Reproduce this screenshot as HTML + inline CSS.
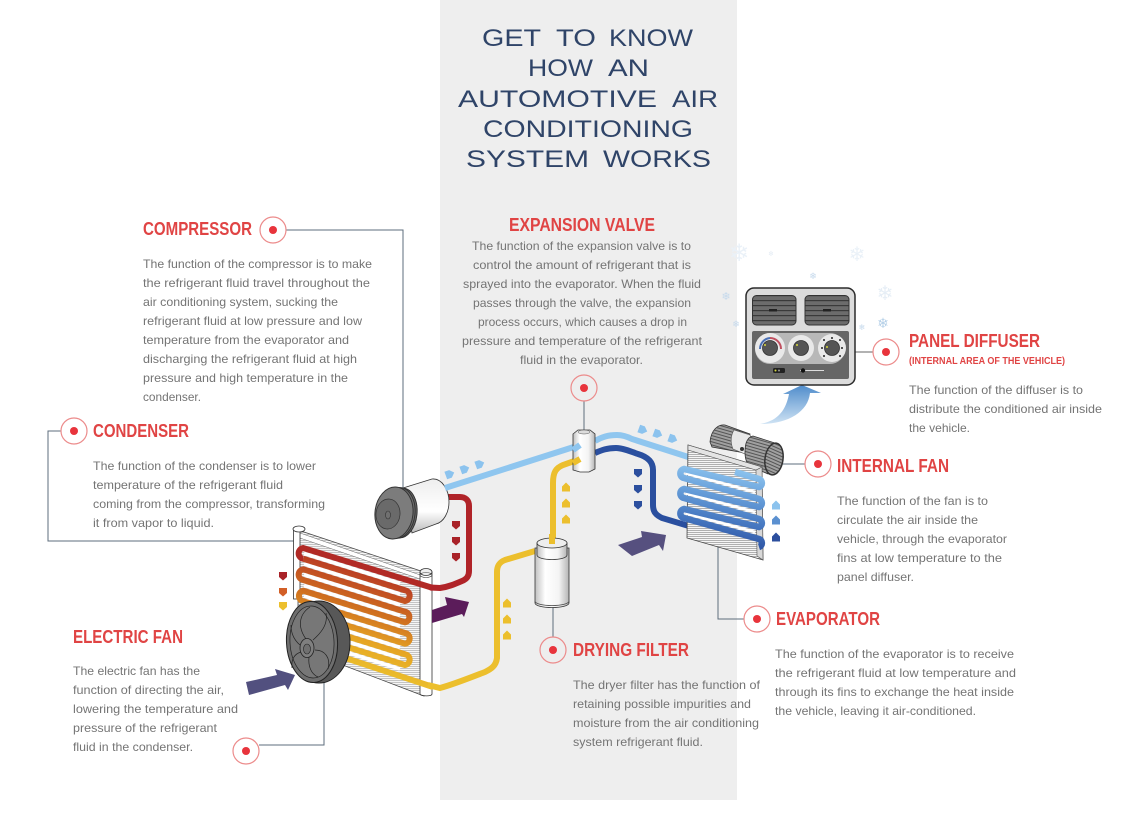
<!DOCTYPE html>
<html><head><meta charset="utf-8"><style>
html,body{margin:0;padding:0;background:#fff;width:1139px;height:818px;overflow:hidden}
svg{display:block;font-family:"Liberation Sans",sans-serif}
.t{font-size:24px;fill:#2f4468}
.h{font-size:18px;font-weight:bold;fill:#e04444}
.b{font-size:12px;fill:#747474}
.l{fill:none;stroke:#5d6d7c;stroke-width:1}
</style></head><body>
<svg width="1139" height="818" viewBox="0 0 1139 818" xmlns="http://www.w3.org/2000/svg">
<defs>
<pattern id="dots" width="2" height="2" patternUnits="userSpaceOnUse"><rect width="2" height="2" fill="#f6f6f6"/><rect width="2" height="1" fill="#c4c4c4"/></pattern>
<pattern id="lines" width="3" height="2" patternUnits="userSpaceOnUse"><rect width="3" height="2" fill="#f6f6f6"/><rect width="3" height="1" fill="#b0b0b0"/></pattern>
<pattern id="drum" width="4" height="3" patternUnits="userSpaceOnUse" patternTransform="rotate(16)"><rect width="4" height="3" fill="#a0a0a0"/><rect width="4" height="1" fill="#555"/></pattern>
<pattern id="vent" width="4" height="5" patternUnits="userSpaceOnUse"><rect width="4" height="5" fill="#6c6c6c"/><rect width="4" height="1.2" fill="#3a3a3a"/></pattern>
<linearGradient id="coil" gradientUnits="userSpaceOnUse" x1="365" y1="565" x2="335" y2="665"><stop offset="0" stop-color="#b5301f"/><stop offset=".12" stop-color="#bd4423"/><stop offset=".42" stop-color="#d0711f"/><stop offset=".7" stop-color="#e6a524"/><stop offset="1" stop-color="#ecc12c"/></linearGradient>
<linearGradient id="evap" gradientUnits="userSpaceOnUse" x1="725" y1="468" x2="715" y2="545"><stop offset="0" stop-color="#8cc3ee"/><stop offset=".35" stop-color="#659cd8"/><stop offset=".7" stop-color="#4576bf"/><stop offset="1" stop-color="#2d53a3"/></linearGradient>
<linearGradient id="cyl" x1="0" x2="1" y1="0" y2="0"><stop offset="0" stop-color="#c0c0c0"/><stop offset=".3" stop-color="#fff"/><stop offset=".7" stop-color="#f4f4f4"/><stop offset="1" stop-color="#b5b5b5"/></linearGradient>
<linearGradient id="comp" x1="0" x2="0" y1="0" y2="1"><stop offset="0" stop-color="#eee"/><stop offset=".6" stop-color="#fff"/><stop offset="1" stop-color="#bbb"/></linearGradient>
<linearGradient id="ba" x1="0" x2="0" y1="0" y2="1"><stop offset="0" stop-color="#4f8ccb"/><stop offset="1" stop-color="#cfe3f4"/></linearGradient>
<path id="dn" d="M-4,-4H4V1L0,4.500L-4,1Z"/>
<path id="up" d="M-4,4.500H4V-.5L0,-4.500L-4,-.5Z"/>
<g id="tg"><circle r="13" fill="none" stroke="#ec8b8b" stroke-width="1.200"/><circle r="4" fill="#e8343c"/></g>
</defs>

<rect width="1139" height="818" fill="#fff"/>
<rect x="440" y="0" width="297" height="800" fill="#eeeeee"/>

<!-- Title -->
<g class="t">
<text x="482" y="46" textLength="59" lengthAdjust="spacingAndGlyphs">GET</text>
<text x="556" y="46" textLength="40" lengthAdjust="spacingAndGlyphs">TO</text>
<text x="609" y="46" textLength="84" lengthAdjust="spacingAndGlyphs">KNOW</text>
<text x="528" y="76" textLength="65" lengthAdjust="spacingAndGlyphs">HOW</text>
<text x="608" y="76" textLength="41" lengthAdjust="spacingAndGlyphs">AN</text>
<text x="458" y="107" textLength="199" lengthAdjust="spacingAndGlyphs">AUTOMOTIVE</text>
<text x="672" y="107" textLength="46" lengthAdjust="spacingAndGlyphs">AIR</text>
<text x="483" y="137" textLength="210" lengthAdjust="spacingAndGlyphs">CONDITIONING</text>
<text x="466" y="167" textLength="123" lengthAdjust="spacingAndGlyphs">SYSTEM</text>
<text x="603" y="167" textLength="108" lengthAdjust="spacingAndGlyphs">WORKS</text>
</g>

<!-- Snow -->
<g font-family="'DejaVu Sans',sans-serif" text-anchor="middle">
<text x="739" y="261" font-size="24" fill="#eaf1f8">❄</text>
<text x="857" y="261" font-size="20" fill="#eaf1f8">❄</text>
<text x="885" y="300" font-size="20" fill="#e6eef6">❄</text>
<text x="726" y="300" font-size="11" fill="#c5d9ec">❄</text>
<text x="813" y="279" font-size="9" fill="#c5d9ec">❄</text>
<text x="883" y="328" font-size="14" fill="#b5d0e8">❄</text>
<text x="862" y="330" font-size="8" fill="#c5d9ec">❄</text>
<text x="736" y="327" font-size="9" fill="#c5d9ec">❄</text>
<text x="771" y="256" font-size="7" fill="#e5edf5">❄</text>
</g>

<!-- Leader lines -->
<polyline class="l" points="286,230 403,230 403,490"/>
<polyline class="l" points="61,431 48,431 48,541 296,541"/>
<polyline class="l" points="259,745 324,745 324,680"/>
<polyline class="l" points="584,401 584,430"/>
<polyline class="l" points="553,637 553,605"/>
<polyline class="l" points="744,619 718,619 718,546"/>
<polyline class="l" points="805,464 782,464"/>
<polyline class="l" points="855,352 873,352" style="stroke:#999;stroke-width:1.500"/>

<!-- Targets -->
<use href="#tg" x="273" y="230"/><use href="#tg" x="74" y="431"/><use href="#tg" x="246" y="751"/>
<use href="#tg" x="584" y="388"/><use href="#tg" x="553" y="650"/><use href="#tg" x="757" y="619"/>
<use href="#tg" x="818" y="464"/><use href="#tg" x="886" y="352"/>

<!-- Condenser -->
<polygon points="298,530 424,572 424,696 298,648" fill="url(#dots)" stroke="#444" stroke-width=".8"/>
<polygon points="300,533 423,576 423,580 300,538" fill="#fff" stroke="#666" stroke-width=".5"/>
<rect x="293.500" y="529" width="6.500" height="70" fill="#fff" stroke="#333" stroke-width=".8"/>
<ellipse cx="299" cy="529" rx="6" ry="3" fill="#fff" stroke="#333" stroke-width=".8"/>
<path d="M420,572V694C420,696 432,697 432,694V572Z" fill="#fff" stroke="#333" stroke-width=".8"/>
<ellipse cx="426" cy="572" rx="6" ry="3.500" fill="#eee" stroke="#333" stroke-width=".8"/>
<ellipse cx="426" cy="575" rx="6" ry="2.500" fill="none" stroke="#333" stroke-width=".6"/>

<g fill="none" stroke="#fff" stroke-width="3.500">
<path d="M304,553.400L400,583.400"/><path d="M400,594L304,564"/><path d="M304,574.700L400,604.700"/><path d="M400,615.400L304,585.400"/><path d="M304,596L400,626"/><path d="M400,636.700L304,606.700"/><path d="M304,617.400L400,647.400"/><path d="M400,658L304,628"/><path d="M304,639L400,669"/>
</g>
<path d="M303.300,558.700L405,590.300A5.400,5.400 0 0 1 405,601L303.300,569.300A5.400,5.400 0 0 0 303.300,580L405,611.700A5.400,5.400 0 0 1 405,622.300L303.300,590.700A5.400,5.400 0 0 0 303.300,601.300L405,633A5.400,5.400 0 0 1 405,643.700L303.300,612A5.400,5.400 0 0 0 303.300,622.700L405,654.300A5.400,5.400 0 0 1 405,665L303.300,633.300A5.400,5.400 0 0 0 303.300,644L433,687" fill="none" stroke="url(#coil)" stroke-width="6"/>
<path d="M303.300,558.700A5.400,5.400 0 0 1 303.300,548L433,588" fill="none" stroke="#b12a25" stroke-width="6"/>
<path d="M430,587.500L440,588C448,587 455,584 462,581C467,579 469,576 469,571V506C469,500 465,497 460,497H447" fill="none" stroke="#b02328" stroke-width="6"/>
<path d="M428,685L440,688C452,685 472,677 485,672C491,669 496,666 497,658V572C497,565 500,562 505,560L535,551" fill="none" stroke="#ecbf2d" stroke-width="6"/>

<!-- Fan -->
<g stroke="#222" stroke-width="1">
<ellipse cx="319" cy="642" rx="31" ry="41" fill="#585858"/>
<ellipse cx="312" cy="642" rx="25.500" ry="40.500" transform="rotate(-3 312 642)" fill="#6e6e6e"/>
<ellipse cx="312" cy="642" rx="22" ry="36" transform="rotate(-3 312 642)" fill="#777" stroke-width=".7"/>
<g fill="none" stroke-width=".7">
<path d="M306,639C298,628 298,615 310,607"/><path d="M313,640C322,632 328,624 326,613"/><path d="M315,650C325,650 331,658 328,669"/><path d="M309,657C308,666 311,674 318,677"/><path d="M301,652C294,654 291,660 292,668"/><path d="M300,645C294,640 291,633 291,625"/>
</g>
<ellipse cx="307" cy="648" rx="7" ry="9.500" fill="#7f7f7f" stroke-width=".8"/>
<ellipse cx="307" cy="649" rx="3.500" ry="5" fill="#707070" stroke-width=".6"/>
</g>

<!-- Compressor -->
<path d="M403,488L432,479C442,478 449,490 449,502C449,512 444,522 436,524L412,533Z" fill="url(#comp)" stroke="#333" stroke-width=".8"/>
<ellipse cx="401" cy="513" rx="16" ry="25" transform="rotate(6 401 513)" fill="#666" stroke="#333"/>
<ellipse cx="398" cy="513" rx="17" ry="25.500" transform="rotate(6 398 513)" fill="#6d6d6d" stroke="#333"/>
<ellipse cx="394" cy="513" rx="19" ry="26" transform="rotate(6 394 513)" fill="#7c7c7c" stroke="#333"/>
<ellipse cx="388" cy="514" rx="12" ry="15" transform="rotate(6 388 514)" fill="#6a6a6a" stroke="#333" stroke-width=".7"/>
<ellipse cx="388" cy="515" rx="2.500" ry="4" fill="#707070" stroke="#333" stroke-width=".6"/>

<!-- Pipes -->
<path d="M445,488L580,445" fill="none" stroke="#8fc6ef" stroke-width="6"/>
<path d="M595,441C602,437 608,435 617,435C622,435 628,437 632,439L757,479" fill="none" stroke="#8fc6ef" stroke-width="6"/>
<path d="M595,453C602,450 607,448 616,448C622,448 630,451 638,454C648,457 653,462 653,470V505C653,512 656,515 662,518L759,547" fill="none" stroke="#2a4f9f" stroke-width="6"/>
<path d="M553,543V483C553,472 556,468 563,465L580,459" fill="none" stroke="#ecbf2d" stroke-width="6"/>

<!-- Drying filter -->
<path d="M535,548V603C535,609 569,609 569,603V548Z" fill="url(#cyl)" stroke="#333" stroke-width=".8"/>
<path d="M535,601C535,607 569,607 569,601" fill="none" stroke="#444" stroke-width=".7"/>
<path d="M537,543V555C537,561 567,561 567,555V543Z" fill="url(#cyl)" stroke="#333" stroke-width=".8"/>
<ellipse cx="552" cy="543" rx="15" ry="5" fill="#eee" stroke="#333" stroke-width=".8"/>
<path d="M552,544V534" stroke="#ecbf2d" stroke-width="6"/>

<!-- Valve -->
<path d="M573,434L578,430H590L595,434V469L589,472L580,472L573,470Z" fill="url(#cyl)" stroke="#333" stroke-width=".8"/>
<ellipse cx="584" cy="432" rx="6" ry="2" fill="#ddd" stroke="#555" stroke-width=".5"/>
<path d="M573,450L580,445" stroke="#8fc6ef" stroke-width="6" fill="none"/>
<path d="M573,463L580,459" stroke="#ecbf2d" stroke-width="6" fill="none"/>

<!-- Blower -->
<path d="M710,442C711,430 718,424 725,425L750,434L745,453L712,447Z" fill="url(#drum)" stroke="#333" stroke-width=".8"/>
<path d="M734,430L750,435C753,442 750,450 745,454L733,449C730,442 731,435 734,430Z" fill="#e8e8e8" stroke="#555" stroke-width=".6"/>
<path d="M745,452C745,442 748,437 753,436L778,444L768,474L750,466C746,463 745,458 745,452Z" fill="url(#drum)" stroke="#333" stroke-width=".8"/>
<circle cx="742" cy="449" r="2" fill="#333"/>
<ellipse cx="774" cy="459" rx="9" ry="16" transform="rotate(8 774 459)" fill="url(#drum)" stroke="#333" stroke-width="1.500"/>

<!-- Evaporator -->
<polygon points="688,445 762,467 763,560 687,538" fill="url(#lines)" stroke="#444" stroke-width=".8"/>
<polygon points="756,470 762,467 763,560 757,556" fill="#d8d8d8" stroke="#555" stroke-width=".6"/>
<polygon points="688,445 762,467 756,470 688,450" fill="#e4e4e4" stroke="#555" stroke-width=".6"/>
<g fill="none" stroke="#fff" stroke-width="2.500">
<path d="M686,473.500L755,492"/><path d="M686,493.500L755,512"/><path d="M686,513.500L755,532"/>
</g>
<path d="M735,472L759,479A4.200,4.200 0 0 1 759,487L684,469A4.600,4.600 0 0 0 684,478L759,499A4.200,4.200 0 0 1 759,507L684,489A4.600,4.600 0 0 0 684,498L759,519A4.200,4.200 0 0 1 759,527L684,509A4.600,4.600 0 0 0 684,518L759,539A4.200,4.200 0 0 1 759,547" fill="none" stroke="url(#evap)" stroke-width="6.500"/>

<!-- Panel -->
<path d="M760,424C778,421 786,410 789,394H783L802,385L821,393H810C808,412 788,424 760,424Z" fill="url(#ba)"/>
<rect x="746" y="288" width="109" height="97" rx="8" fill="#dcdcdc" stroke="#2b2b2b" stroke-width="1.500"/>
<rect x="752.500" y="295.500" width="43.500" height="29.500" rx="4" fill="url(#vent)" stroke="#333"/>
<rect x="805" y="295.500" width="44" height="29.500" rx="4" fill="url(#vent)" stroke="#333"/>
<rect x="769" y="309" width="8" height="2.500" fill="#222"/><rect x="823" y="309" width="8" height="2.500" fill="#222"/>
<rect x="752" y="331" width="97" height="48" rx="2" fill="#666"/>
<rect x="755" y="333" width="90" height="31" rx="15" fill="#b8b8b8"/>
<circle cx="770" cy="348" r="15" fill="#e9e9e9"/><circle cx="801" cy="348" r="13" fill="#e9e9e9"/><circle cx="832" cy="348" r="14" fill="#e9e9e9"/>
<path d="M760,349A11,11 0 0 1 770,338" fill="none" stroke="#4a6fb5" stroke-width="2"/>
<path d="M770,338A11,11 0 0 1 781,349" fill="none" stroke="#c05060" stroke-width="2"/>
<g fill="#555" stroke="#333" stroke-width=".8"><circle cx="770" cy="348" r="7.500"/><circle cx="801" cy="348" r="7.500"/><circle cx="832" cy="348" r="7.500"/></g>
<g fill="#d6d83a"><circle cx="765" cy="345" r="1"/><circle cx="797" cy="345" r="1"/><circle cx="827" cy="347" r="1"/></g>
<g fill="#222"><circle cx="824" cy="340" r="1"/><circle cx="832" cy="338" r="1"/><circle cx="840" cy="340" r="1"/><circle cx="842" cy="348" r="1"/><circle cx="840" cy="356" r="1"/><circle cx="824" cy="356" r="1"/><circle cx="822" cy="348" r="1"/></g>
<rect x="773" y="368" width="12" height="5" rx="1.500" fill="#222"/><circle cx="775.500" cy="370.500" r="1" fill="#d6d83a"/><circle cx="779" cy="370.500" r="1" fill="#999"/>
<rect x="800" y="370" width="24" height="1" fill="#ddd"/><circle cx="803" cy="370.500" r="2.200" fill="#111"/>

<!-- Big arrows -->
<polygon points="432,610 447,605 445,597 469,602 464,617 462,614 432,623" fill="#5b1c5a"/>
<polygon points="246,682 277,675 275,669 295,675 288,690 285,685 249,695" fill="#52507f"/>
<polygon points="618,545 642,537 641,531 666,535 663,551 659,545 632,556" fill="#56507f"/>

<!-- Small arrows -->
<g fill="#a92228"><use href="#dn" x="456" y="525"/><use href="#dn" x="456" y="541"/><use href="#dn" x="456" y="557"/><use href="#dn" x="283" y="576"/></g>
<use href="#dn" x="283" y="592" fill="#d25f27"/><use href="#dn" x="283" y="606" fill="#ecbf2d"/>
<g fill="#ecbf2d"><use href="#up" x="507" y="603"/><use href="#up" x="507" y="619"/><use href="#up" x="507" y="635"/><use href="#up" x="566" y="487"/><use href="#up" x="566" y="503"/><use href="#up" x="566" y="519"/></g>
<g fill="#2c4f9e"><use href="#dn" x="638" y="473"/><use href="#dn" x="638" y="489"/><use href="#dn" x="638" y="505"/><use href="#up" x="776" y="537"/></g>
<use href="#up" x="776" y="505" fill="#8cc3ee"/><use href="#up" x="776" y="520" fill="#5b90d0"/>
<g fill="#8cc3ee">
<use href="#up" transform="translate(450,474) rotate(70)"/><use href="#up" transform="translate(465,469) rotate(70)"/><use href="#up" transform="translate(480,464) rotate(70)"/>
<use href="#up" transform="translate(643,430) rotate(110)"/><use href="#up" transform="translate(658,434) rotate(110)"/><use href="#up" transform="translate(673,439) rotate(110)"/>
</g>

<!-- Headings -->
<g class="h">
<text x="143" y="235" textLength="109" lengthAdjust="spacingAndGlyphs">COMPRESSOR</text>
<text x="93" y="437" textLength="96" lengthAdjust="spacingAndGlyphs">CONDENSER</text>
<text x="73" y="643" textLength="110" lengthAdjust="spacingAndGlyphs">ELECTRIC FAN</text>
<text x="509" y="231" textLength="146" lengthAdjust="spacingAndGlyphs">EXPANSION VALVE</text>
<text x="909" y="347" textLength="131" lengthAdjust="spacingAndGlyphs">PANEL DIFFUSER</text>
<text x="837" y="472" textLength="112" lengthAdjust="spacingAndGlyphs">INTERNAL FAN</text>
<text x="776" y="625" textLength="104" lengthAdjust="spacingAndGlyphs">EVAPORATOR</text>
<text x="573" y="656" textLength="116" lengthAdjust="spacingAndGlyphs">DRYING FILTER</text>
</g>
<text x="909" y="364" font-size="10" font-weight="bold" fill="#e04444" textLength="156" lengthAdjust="spacingAndGlyphs">(INTERNAL AREA OF THE VEHICLE)</text>

<!-- Body text -->
<g class="b">
<text x="143" y="268" textLength="229" lengthAdjust="spacingAndGlyphs">The function of the compressor is to make</text>
<text x="143" y="287" textLength="227" lengthAdjust="spacingAndGlyphs">the refrigerant fluid travel throughout the</text>
<text x="143" y="306" textLength="195" lengthAdjust="spacingAndGlyphs">air conditioning system, sucking the</text>
<text x="143" y="325" textLength="219" lengthAdjust="spacingAndGlyphs">refrigerant fluid at low pressure and low</text>
<text x="143" y="344" textLength="206" lengthAdjust="spacingAndGlyphs">temperature from the evaporator and</text>
<text x="143" y="363" textLength="214" lengthAdjust="spacingAndGlyphs">discharging the refrigerant fluid at high</text>
<text x="143" y="382" textLength="205" lengthAdjust="spacingAndGlyphs">pressure and high temperature in the</text>
<text x="143" y="401" textLength="58" lengthAdjust="spacingAndGlyphs">condenser.</text>

<text x="93" y="470" textLength="223" lengthAdjust="spacingAndGlyphs">The function of the condenser is to lower</text>
<text x="93" y="489" textLength="190" lengthAdjust="spacingAndGlyphs">temperature of the refrigerant fluid</text>
<text x="93" y="508" textLength="232" lengthAdjust="spacingAndGlyphs">coming from the compressor, transforming</text>
<text x="93" y="527" textLength="121" lengthAdjust="spacingAndGlyphs">it from vapor to liquid.</text>

<text x="73" y="675" textLength="127" lengthAdjust="spacingAndGlyphs">The electric fan has the</text>
<text x="73" y="694" textLength="151" lengthAdjust="spacingAndGlyphs">function of directing the air,</text>
<text x="73" y="713" textLength="165" lengthAdjust="spacingAndGlyphs">lowering the temperature and</text>
<text x="73" y="732" textLength="144" lengthAdjust="spacingAndGlyphs">pressure of the refrigerant</text>
<text x="73" y="751" textLength="120" lengthAdjust="spacingAndGlyphs">fluid in the condenser.</text>

<text x="472" y="250" textLength="219" lengthAdjust="spacingAndGlyphs">The function of the expansion valve is to</text>
<text x="473" y="269" textLength="218" lengthAdjust="spacingAndGlyphs">control the amount of refrigerant that is</text>
<text x="463" y="288" textLength="238" lengthAdjust="spacingAndGlyphs">sprayed into the evaporator. When the fluid</text>
<text x="473" y="307" textLength="218" lengthAdjust="spacingAndGlyphs">passes through the valve, the expansion</text>
<text x="478" y="326" textLength="209" lengthAdjust="spacingAndGlyphs">process occurs, which causes a drop in</text>
<text x="462" y="345" textLength="240" lengthAdjust="spacingAndGlyphs">pressure and temperature of the refrigerant</text>
<text x="520" y="364" textLength="123" lengthAdjust="spacingAndGlyphs">fluid in the evaporator.</text>

<text x="909" y="394" textLength="174" lengthAdjust="spacingAndGlyphs">The function of the diffuser is to</text>
<text x="909" y="413" textLength="193" lengthAdjust="spacingAndGlyphs">distribute the conditioned air inside</text>
<text x="909" y="432" textLength="61" lengthAdjust="spacingAndGlyphs">the vehicle.</text>

<text x="837" y="505" textLength="151" lengthAdjust="spacingAndGlyphs">The function of the fan is to</text>
<text x="837" y="524" textLength="141" lengthAdjust="spacingAndGlyphs">circulate the air inside the</text>
<text x="837" y="543" textLength="170" lengthAdjust="spacingAndGlyphs">vehicle, through the evaporator</text>
<text x="837" y="562" textLength="165" lengthAdjust="spacingAndGlyphs">fins at low temperature to the</text>
<text x="837" y="581" textLength="77" lengthAdjust="spacingAndGlyphs">panel diffuser.</text>

<text x="775" y="658" textLength="239" lengthAdjust="spacingAndGlyphs">The function of the evaporator is to receive</text>
<text x="775" y="677" textLength="241" lengthAdjust="spacingAndGlyphs">the refrigerant fluid at low temperature and</text>
<text x="775" y="696" textLength="239" lengthAdjust="spacingAndGlyphs">through its fins to exchange the heat inside</text>
<text x="775" y="715" textLength="201" lengthAdjust="spacingAndGlyphs">the vehicle, leaving it air-conditioned.</text>

<text x="573" y="689" textLength="187" lengthAdjust="spacingAndGlyphs">The dryer filter has the function of</text>
<text x="573" y="708" textLength="178" lengthAdjust="spacingAndGlyphs">retaining possible impurities and</text>
<text x="573" y="727" textLength="186" lengthAdjust="spacingAndGlyphs">moisture from the air conditioning</text>
<text x="573" y="746" textLength="130" lengthAdjust="spacingAndGlyphs">system refrigerant fluid.</text>
</g>
</svg>
</body></html>
